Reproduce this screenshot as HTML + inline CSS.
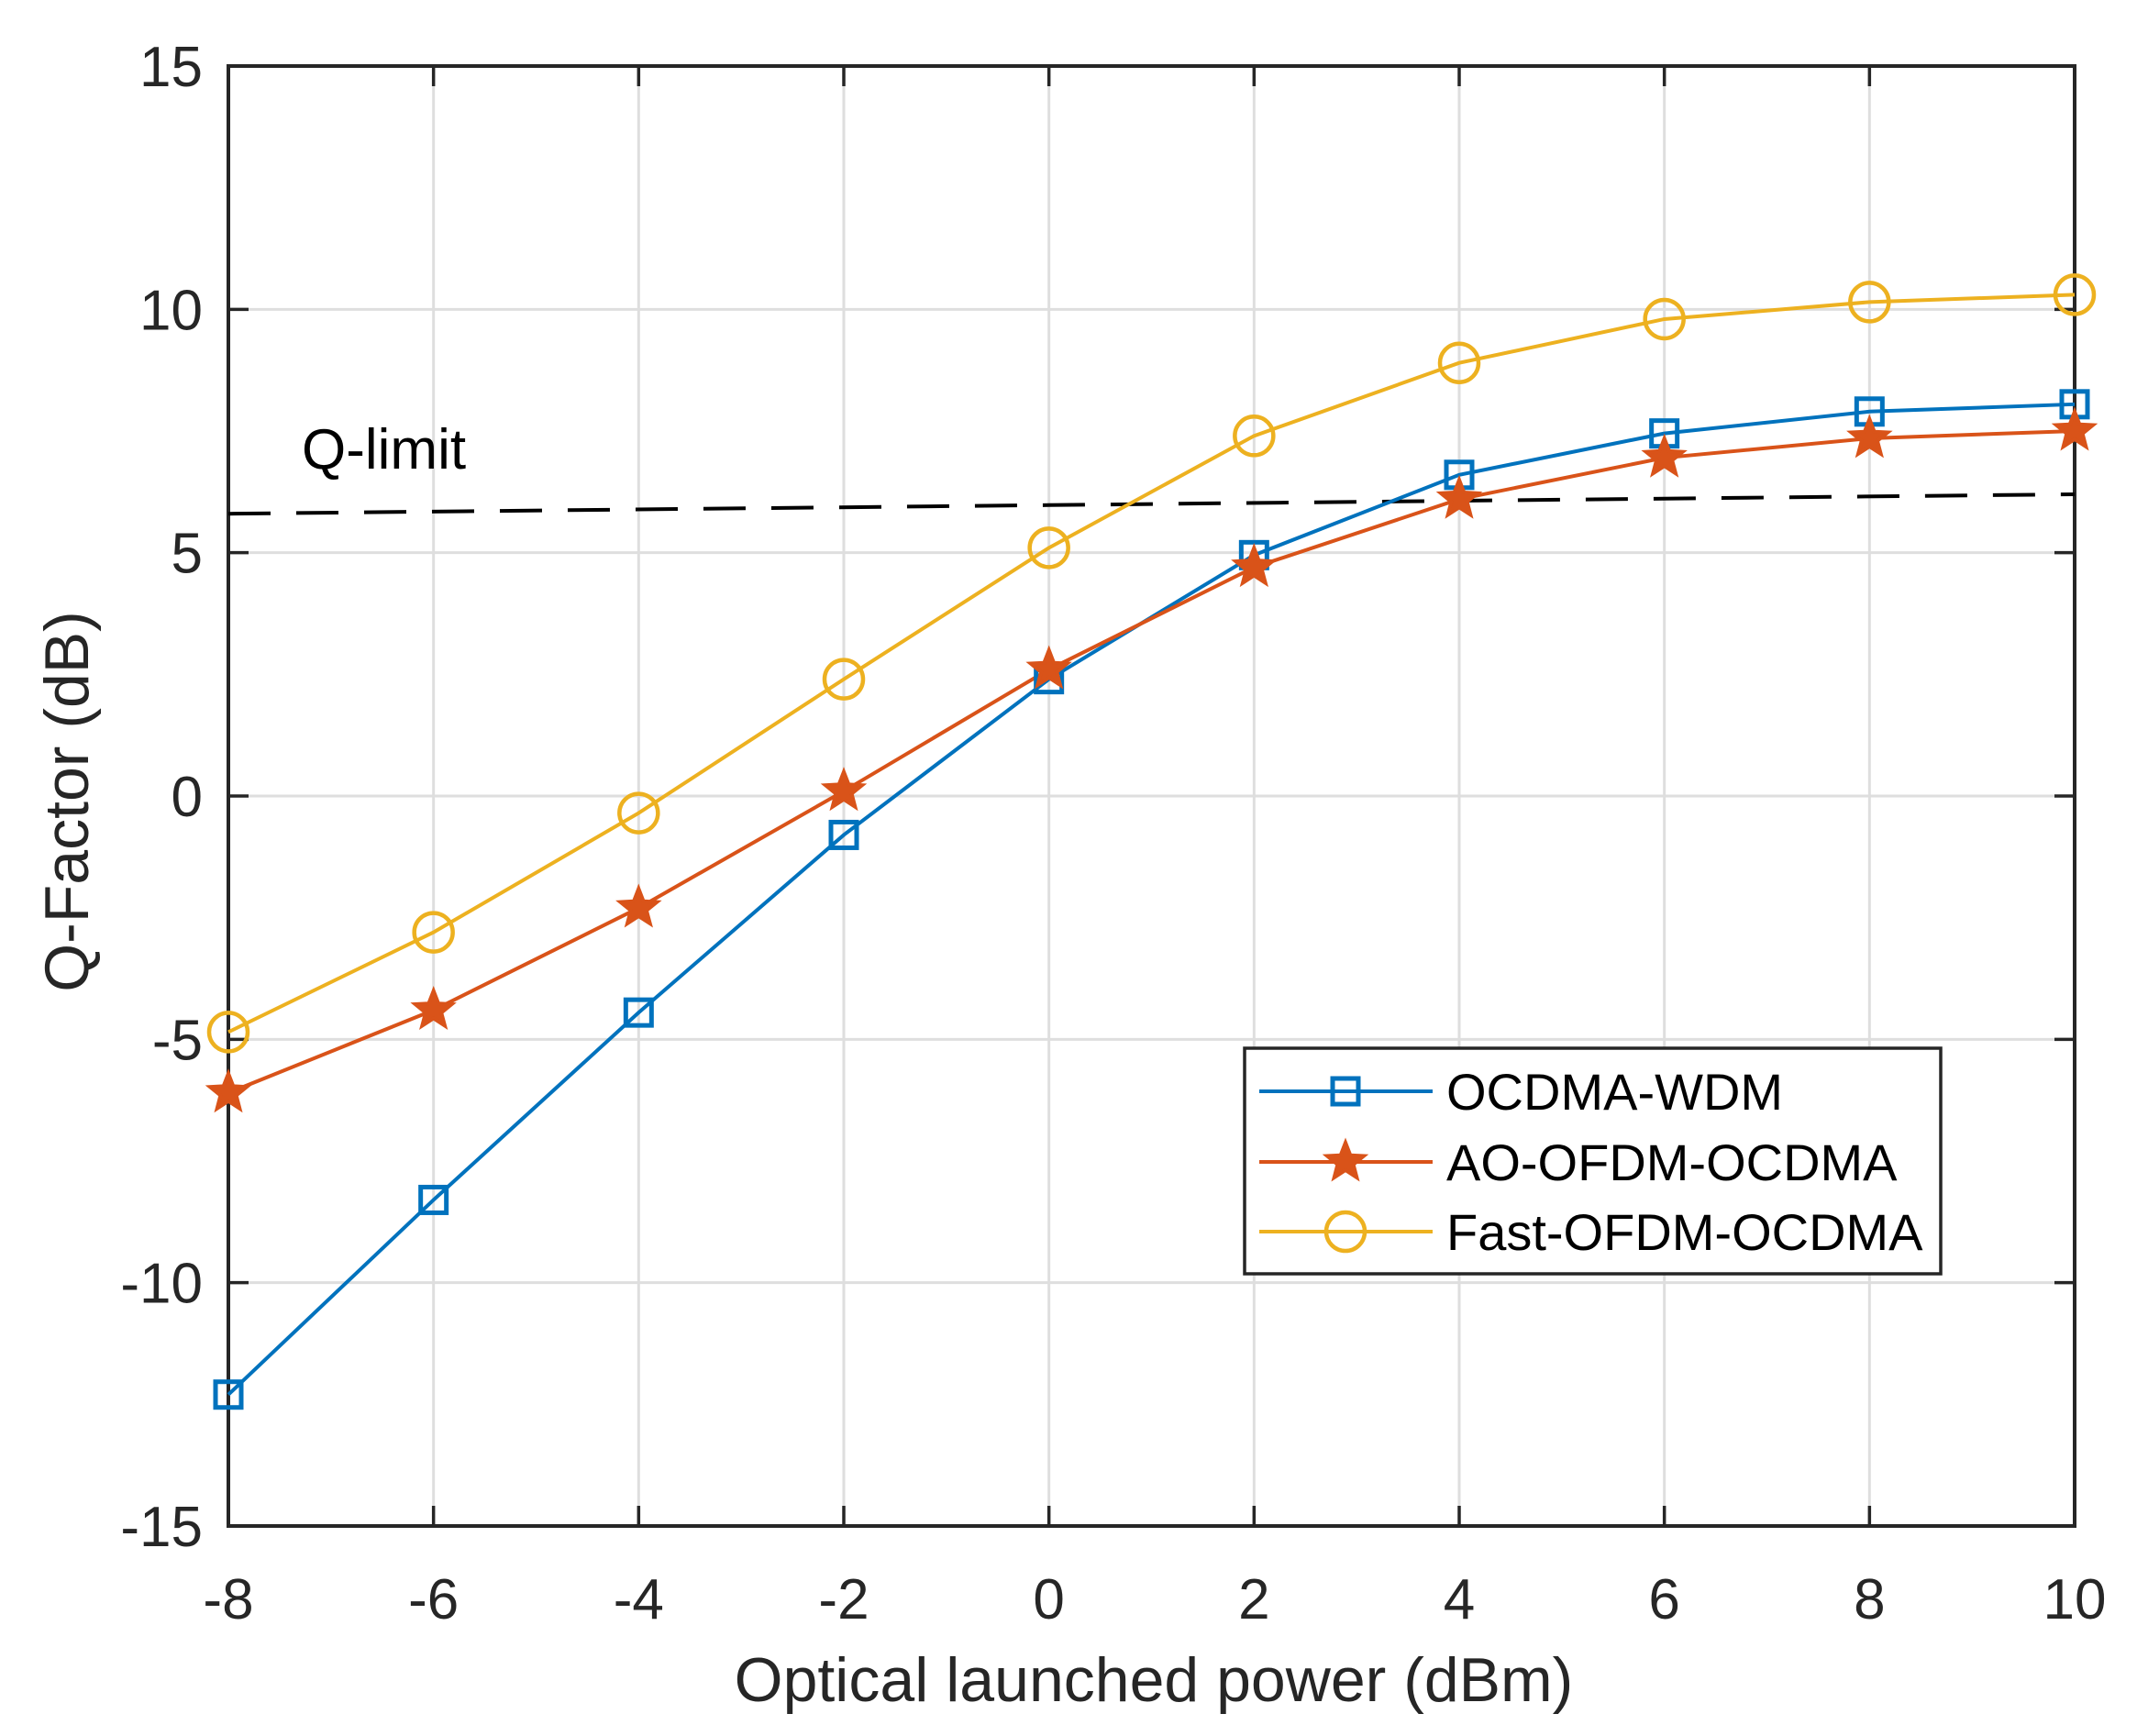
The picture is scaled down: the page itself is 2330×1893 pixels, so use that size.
<!DOCTYPE html>
<html><head><meta charset="utf-8"><style>
html,body{margin:0;padding:0;background:#fff;}
svg{display:block;font-family:"Liberation Sans",Arial,sans-serif;}
</style></head><body>
<svg id="s" width="2330" height="1893" viewBox="0 0 2330 1893" xmlns="http://www.w3.org/2000/svg"></svg>
<script>
const L=249,R=2262,T=72,B=1664;
const X=x=>L+(x+8)*(R-L)/18, Y=y=>T+(15-y)*(B-T)/30;
let h='<rect width="2330" height="1893" fill="#fff"/>';
for(let x=-8;x<=10;x+=2){h+=`<line x1="${X(x)}" y1="${T}" x2="${X(x)}" y2="${B}" stroke="#dedede" stroke-width="3"/>`;}
for(let y=-15;y<=15;y+=5){h+=`<line x1="${L}" y1="${Y(y)}" x2="${R}" y2="${Y(y)}" stroke="#dedede" stroke-width="3"/>`;}
for(let x=-8;x<=10;x+=2){h+=`<line x1="${X(x)}" y1="${B}" x2="${X(x)}" y2="${B-22}" stroke="#262626" stroke-width="3.5"/><line x1="${X(x)}" y1="${T}" x2="${X(x)}" y2="${T+22}" stroke="#262626" stroke-width="3.5"/>`;
 h+=`<text x="${X(x)}" y="1765" font-size="62" text-anchor="middle" fill="#262626">${x}</text>`;}
for(let y=-15;y<=15;y+=5){h+=`<line x1="${L}" y1="${Y(y)}" x2="${L+22}" y2="${Y(y)}" stroke="#262626" stroke-width="3.5"/><line x1="${R}" y1="${Y(y)}" x2="${R-22}" y2="${Y(y)}" stroke="#262626" stroke-width="3.5"/>`;
 h+=`<text x="221" y="${Y(y)+22}" font-size="62" text-anchor="end" fill="#262626">${y}</text>`;}
h+=`<rect x="${L}" y="${T}" width="${R-L}" height="${B-T}" fill="none" stroke="#262626" stroke-width="4"/>`;
h+=`<line x1="${X(-8)}" y1="${Y(5.8)}" x2="${X(10)}" y2="${Y(6.2)}" stroke="#000" stroke-width="4" stroke-dasharray="46,28"/>`;
h+=`<text x="329" y="511" font-size="62" fill="#000">Q-limit</text>`;
const xs=[-8,-6,-4,-2,0,2,4,6,8,10];
const d1=[-12.3,-8.3,-4.45,-0.8,2.4,4.95,6.6,7.45,7.9,8.05];
const d2=[-6.1,-4.4,-2.3,0.1,2.6,4.7,6.1,6.95,7.35,7.5];
const d3=[-4.85,-2.8,-0.35,2.4,5.1,7.4,8.9,9.8,10.15,10.3];
const c1='#0072BD',c2='#D95319',c3='#EDB120';
function poly(d,c){return `<polyline fill="none" stroke="${c}" stroke-width="4" points="${xs.map((x,i)=>X(x)+','+Y(d[i])).join(' ')}"/>`;}
function sq(x,y,c){return `<rect x="${x-14}" y="${y-14}" width="28" height="28" fill="none" stroke="${c}" stroke-width="5"/>`;}
function ci(x,y,c){return `<circle cx="${x}" cy="${y}" r="21" fill="none" stroke="${c}" stroke-width="4.5"/>`;}
function st(x,y,c){let p=[];for(let k=0;k<10;k++){const r=k%2?9:21,a=-Math.PI/2+k*Math.PI/5;p.push((x+r*Math.cos(a)).toFixed(1)+','+(y+r*Math.sin(a)).toFixed(1));}return `<polygon points="${p.join(' ')}" fill="${c}" stroke="${c}" stroke-width="4" stroke-linejoin="miter"/>`;}
h+=poly(d1,c1)+poly(d2,c2)+poly(d3,c3);
xs.forEach((x,i)=>{h+=sq(X(x),Y(d1[i]),c1);h+=st(X(x),Y(d2[i]),c2);h+=ci(X(x),Y(d3[i]),c3);});
h+=`<rect x="1357" y="1143" width="759" height="246" fill="#fff" stroke="#262626" stroke-width="3.5"/>`;
const ly=[1190,1267,1343];
[[c1,sq,'OCDMA-WDM'],[c2,st,'AO-OFDM-OCDMA'],[c3,ci,'Fast-OFDM-OCDMA']].forEach((e,i)=>{
 h+=`<line x1="1373" y1="${ly[i]}" x2="1562" y2="${ly[i]}" stroke="${e[0]}" stroke-width="4"/>`+e[1](1467,ly[i],e[0]);
 h+=`<text x="1577" y="${ly[i]+20}" font-size="56" fill="#000">${e[2]}</text>`;});
h+=`<text x="1258" y="1855" font-size="68" text-anchor="middle" fill="#262626">Optical launched power (dBm)</text>`;
h+=`<text transform="translate(96,874) rotate(-90)" font-size="68" text-anchor="middle" fill="#262626">Q-Factor (dB)</text>`;
document.getElementById('s').innerHTML=h;
</script>
</body></html>
